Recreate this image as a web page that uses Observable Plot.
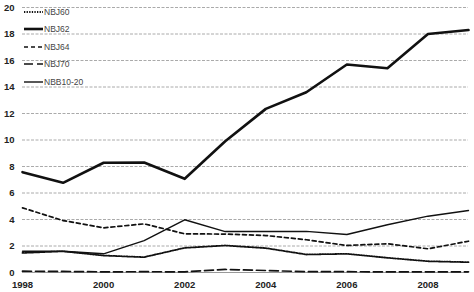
<!DOCTYPE html>
<html><head><meta charset="utf-8">
<script src="https://cdn.jsdelivr.net/npm/d3@7"></script>
<script src="https://cdn.jsdelivr.net/npm/@observablehq/plot@0.6"></script>
<style>
body{margin:0;background:#fff;}
#wrap{position:relative;width:474px;height:292px;}
#legend{position:absolute;left:24px;top:3px;font-family:"Liberation Sans",Arial,sans-serif;font-size:8.5px;color:#444;}
#legend .it{display:flex;align-items:center;height:17.5px;}
#legend svg{margin-right:1px;}
</style></head>
<body><div id="wrap"><div id="legend"></div></div>
<script>
const years = [1998,1999,2000,2001,2002,2003,2004,2005,2006,2007,2008,2009];
const seriesNames = ["NBJ60","NBJ62","NBJ64","NBJ70","NBB10-20"];
const NBJ60 = [1.48,1.6,1.28,1.16,1.86,2.04,1.84,1.36,1.41,1.11,0.85,0.78];
const NBJ62 = [7.57,6.77,8.28,8.3,7.07,9.9,12.35,13.6,15.7,15.42,18.0,18.3];
const NBJ64 = [4.88,3.92,3.37,3.67,2.92,2.9,2.79,2.47,2.04,2.17,1.79,2.36];
const NBJ70 = [0.1,0.08,0.05,0.06,0.05,0.23,0.15,0.06,0.06,0.05,0.05,0.05];
const NBB1020 = [1.6,1.6,1.41,2.4,3.98,3.09,3.1,3.1,2.87,3.6,4.25,4.68];
const yTicks = [0,2,4,6,8,10,12,14,16,18,20];
const xTicks = [1998,2000,2002,2004,2006,2008];

const values = {"NBJ60":NBJ60,"NBJ62":NBJ62,"NBJ64":NBJ64,"NBJ70":NBJ70,"NBB10-20":NBB1020};
const styles = {
  "NBJ60":{strokeWidth:1.8,strokeDasharray:"1.3,1.3"},
  "NBJ62":{strokeWidth:2.6,strokeDasharray:null},
  "NBJ64":{strokeWidth:1.7,strokeDasharray:"4,3"},
  "NBJ70":{strokeWidth:1.7,strokeDasharray:"9,4"},
  "NBB10-20":{strokeWidth:1.4,strokeDasharray:null}
};
const rows = seriesNames.flatMap(s => years.map((y,i)=>({series:s, year:y, value:values[s][i]})));

const marks = [
  Plot.ruleY(yTicks.filter(d=>d>0), {stroke:"#aaa", strokeWidth:1, strokeDasharray:"3,1.5"}),
  Plot.ruleY([0], {stroke:"#999", strokeWidth:1}),
  Plot.axisY(yTicks, {tickSize:0, tickPadding:8, fontSize:9.5, fill:"#222", fontWeight:"bold", label:null}),
  Plot.axisX(xTicks, {tickSize:0, tickPadding:9, fontSize:9.5, fill:"#222", fontWeight:"bold", label:null, tickFormat:d=>String(d)}),
  ...seriesNames.map(s => Plot.line(rows.filter(r=>r.series===s), {x:"year", y:"value", stroke:"#111", strokeLinejoin:"round", ...styles[s]}))
];

const chart = Plot.plot({
  width:474, height:292,
  marginLeft:22, marginRight:6, marginTop:7, marginBottom:20,
  x:{domain:[1998,2009], label:null},
  y:{domain:[0,20], label:null},
  style:{fontFamily:"Liberation Sans, Arial, sans-serif", background:"#fff"},
  marks
});
document.getElementById("wrap").prepend(chart);

const lg = document.getElementById("legend");
seriesNames.forEach(s => {
  const st = styles[s];
  const it = document.createElement("div"); it.className="it";
  it.innerHTML = `<svg width="19" height="6"><line x1="0" x2="19" y1="3" y2="3" stroke="#111" stroke-width="${st.strokeWidth}" ${st.strokeDasharray?`stroke-dasharray="${st.strokeDasharray}"`:""}/></svg><span>${s}</span>`;
  lg.appendChild(it);
});
</script></body></html>
